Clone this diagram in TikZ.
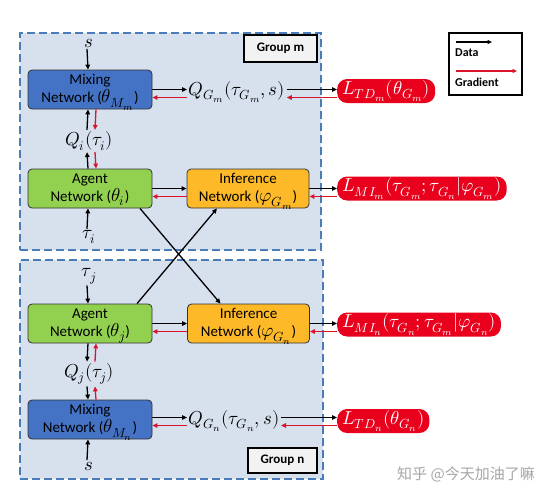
\documentclass[tikz,border=0pt]{standalone}
\usepackage{amsmath}
\usepackage{fontspec}
\usepackage{unicode-math}
\setmainfont{Carlito}
\setmathfont{Latin Modern Math}[Scale=1.25]
\newfontfamily\cjk{Noto Sans CJK SC}
\usetikzlibrary{arrows.meta,calc}
\definecolor{bgblue}{HTML}{D7E1EE}
\definecolor{dashblue}{HTML}{4A7DB8}
\definecolor{mixblue}{HTML}{4472C4}
\definecolor{agentgreen}{HTML}{92D050}
\definecolor{inforange}{HTML}{FDB927}
\definecolor{lossred}{HTML}{E8001C}
\definecolor{gradred}{HTML}{D9142B}
\newcommand{\sm}[1]{\smash[b]{$#1$}}
\begin{document}
\begin{tikzpicture}[x=1pt,y=-1pt,
  group/.style={draw=dashblue,fill=bgblue,line width=2.2pt,dash pattern=on 8pt off 4pt,anchor=north west,inner sep=0pt},
  glabel/.style={draw=black,line width=1.4pt,fill=white!95!black,font=\bfseries\fontsize{13}{15}\selectfont,inner sep=0pt},
  net/.style={draw=black!80,line width=0.8pt,rounded corners=4pt,minimum width=124pt,minimum height=39pt,align=center,font=\fontsize{15}{18}\selectfont,inner sep=0pt},
  lab/.style={font=\fontsize{15}{18}\selectfont,inner sep=1.5pt},
  loss/.style={fill=lossred,text=white,rounded corners=10pt,minimum height=24pt,inner xsep=5pt,inner ysep=0pt,anchor=west,font=\fontsize{15}{18}\selectfont},
  data/.style={draw=black,line width=1.3pt,-{Triangle[length=5pt,width=4.5pt]}},
  grad/.style={draw=gradred,line width=1.3pt,-{Triangle[length=5pt,width=4.5pt]}}]
\useasboundingbox (0,0) rectangle (556,496);
\fill[white] (0,0) rectangle (556,496);
% groups
\node[group,minimum width=301pt,minimum height=217pt] (gm) at (19,32) {};
\node[group,minimum width=303pt,minimum height=219pt] (gn) at (19,259) {};
\node[glabel,minimum width=73pt,minimum height=27pt] (glm) at (280.5,48.5) {Group m};
\node[glabel,minimum width=69pt,minimum height=25pt] (gln) at (282.5,460.5) {Group n};
% networks
\node[net,fill=mixblue] (mixm) at (90,89.5) {Mixing\\Network (\sm{\theta_{M_m}})};
\node[net,fill=agentgreen] (agm) at (90,188.5) {Agent\\Network (\sm{\theta_i})};
\node[net,fill=inforange,minimum width=122pt] (infm) at (248,188.5) {Inference\\Network (\sm{\varphi_{G_m}})};
\node[net,fill=agentgreen] (agn) at (90,323.5) {Agent\\Network (\sm{\theta_j})};
\node[net,fill=inforange,minimum width=122pt] (infn) at (248.5,323.5) {Inference\\Network (\sm{\varphi_{G_n}})};
\node[net,fill=mixblue] (mixn) at (90,419.5) {Mixing\\Network (\sm{\theta_{M_n}})};
% labels
\node[lab] (sm) at (89,43) {$s$};
\node[lab] (qi) at (89,141) {$Q_i(\tau_i)$};
\node[lab] (ti) at (89,237) {$\tau_i$};
\node[lab] (tj) at (89,276) {$\tau_j$};
\node[lab] (qj) at (89,374) {$Q_j(\tau_j)$};
\node[lab] (sn) at (89,466) {$s$};
\node[lab,anchor=west] (qgm) at (187,92) {$Q_{G_m}(\tau_{G_m},s)$};
\node[lab,anchor=west] (qgn) at (187,421) {$Q_{G_n}(\tau_{G_n},s)$};
% losses
\node[loss] (ltdm) at (337,91) {$L_{TD_m}(\theta_{G_m})$};
\node[loss] (lmim) at (337,188.5) {$L_{MI_m}(\tau_{G_m};\tau_{G_n}|\varphi_{G_m})$};
\node[loss] (lmin) at (337,324.5) {$L_{MI_n}(\tau_{G_n};\tau_{G_m}|\varphi_{G_n})$};
\node[loss] (ltdn) at (337,421) {$L_{TD_n}(\theta_{G_n})$};
% group m vertical arrows
\draw[data] ($(sm.south)+(-2,0)$) -- ($(mixm.north)+(-2,0)$);
\draw[data] ($(qi.north)+(-2,0)$) -- ($(mixm.south)+(-2,0)$);
\draw[grad] ($(mixm.south)+(6,0)$) -- ($(qi.north)+(6,0)$);
\draw[data] ($(agm.north)+(-2,0)$) -- ($(qi.south)+(-2,0)$);
\draw[grad] ($(qi.south)+(6,0)$) -- ($(agm.north)+(6,0)$);
\draw[data] ($(ti.north)+(-2,0)$) -- ($(agm.south)+(-2,0)$);
% group n vertical arrows
\draw[data] ($(tj.south)+(-2,0)$) -- ($(agn.north)+(-2,0)$);
\draw[data] ($(agn.south)+(-2,0)$) -- ($(qj.north)+(-2,0)$);
\draw[grad] ($(qj.north)+(6,0)$) -- ($(agn.south)+(6,0)$);
\draw[data] ($(qj.south)+(-2,0)$) -- ($(mixn.north)+(-2,0)$);
\draw[grad] ($(mixn.north)+(6,0)$) -- ($(qj.south)+(6,0)$);
\draw[data] ($(sn.north)+(-2,0)$) -- ($(mixn.south)+(-2,0)$);
% horizontal arrows group m
\draw[data] (mixm.east) -- (mixm.east -| qgm.west);
\draw[grad] ($(mixm.east -| qgm.west)+(0,8)$) -- ($(mixm.east)+(0,8)$);
\draw[data] (mixm.east -| qgm.east) -- (mixm.east -| ltdm.west);
\draw[grad] ($(mixm.east -| ltdm.west)+(0,8)$) -- ($(mixm.east -| qgm.east)+(0,8)$);
\draw[data] (agm.east) -- (infm.west);
\draw[grad] ($(infm.west)+(0,8)$) -- ($(agm.east)+(0,8)$);
\draw[data] (infm.east) -- (infm.east -| lmim.west);
\draw[grad] ($(infm.east -| lmim.west)+(0,8)$) -- ($(infm.east)+(0,8)$);
% horizontal arrows group n
\draw[data] (agn.east) -- (agn.east -| infn.west);
\draw[grad] ($(agn.east -| infn.west)+(0,8)$) -- ($(agn.east)+(0,8)$);
\draw[data] (infn.east) -- (infn.east -| lmin.west);
\draw[grad] ($(infn.east -| lmin.west)+(0,8)$) -- ($(infn.east)+(0,8)$);
\draw[data] ($(mixn.east)+(0,-2)$) -- ($(mixn.east -| qgn.west)+(0,-2)$);
\draw[grad] ($(mixn.east -| qgn.west)+(0,6)$) -- ($(mixn.east)+(0,6)$);
\draw[data] ($(mixn.east -| qgn.east)+(0,-2)$) -- ($(mixn.east -| ltdn.west)+(0,-2)$);
\draw[grad] ($(mixn.east -| ltdn.west)+(0,6)$) -- ($(mixn.east -| qgn.east)+(0,6)$);
% crossing arrows
\draw[data] ($(agm.south)+(50,0)$) -- ($(infn.north)+(-28,0)$);
\draw[data] ($(agn.north)+(47,0)$) -- ($(infm.south)+(-31,0)$);
% legend
\node[draw=black,line width=1.4pt,minimum width=73pt,minimum height=62pt,inner sep=0pt] (leg) at (485.5,64) {};
\coordinate (d1) at (456,42);
\coordinate (d2) at (492,42);
\coordinate (g1) at (456,71);
\coordinate (g2) at (517,71);
\draw[data,line width=1.1pt,-{Triangle[length=4.5pt,width=4pt]}] (d1) -- (d2);
\draw[grad,line width=1.1pt,-{Triangle[length=4.5pt,width=4pt]}] (g1) -- (g2);
\node[anchor=west,inner sep=0pt,font=\bfseries\fontsize{12}{14}\selectfont] (ldata) at (455,53) {Data};
\node[anchor=west,inner sep=0pt,font=\bfseries\fontsize{12}{14}\selectfont] (lgrad) at (455,82) {Gradient};
% watermark
\node[text=black!35,font=\cjk\fontsize{15}{15}\selectfont,inner sep=0pt] (wm) at (466,474) {知乎 @今天加油了嘛};
\end{tikzpicture}
\end{document}
